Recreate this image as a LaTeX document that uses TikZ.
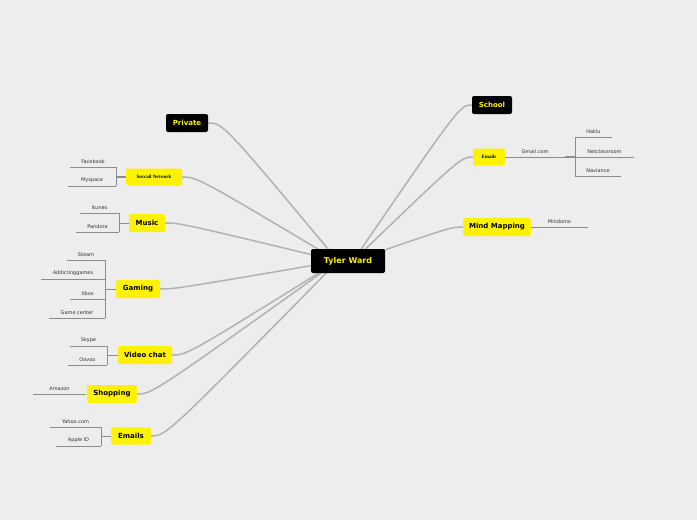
\documentclass[tikz,border=0pt]{standalone}
\usepackage{fontspec}
\setmainfont{DejaVu Sans}
\newfontfamily\serifk{Liberation Serif}
\usetikzlibrary{calc}
\begin{document}
\begin{tikzpicture}[x=1pt,y=-1pt,
 topic/.style={fill=yellow,rounded corners=2pt,font=\bfseries\fontsize{7}{8}\selectfont,inner sep=0pt,minimum height=18pt,text=black},
 dark/.style={fill=black,rounded corners=2pt,font=\bfseries\fontsize{7}{8}\selectfont,inner sep=0pt,minimum height=18pt,text=yellow},
 sertopic/.style={topic,minimum height=17pt,font=\serifk\bfseries\fontsize{5}{6}\selectfont},
 leafl/.style={draw=black!45,line width=0.6pt},
 lbl/.style={font=\fontsize{5}{6}\selectfont,text=black!80,inner sep=0pt}]
\fill[black!7] (0,0) rectangle (697,520);
\useasboundingbox (0,0) rectangle (697,520);
\coordinate (c) at (348,261);
\coordinate (priv) at (187,123);
\coordinate (sch) at (492,105);
\coordinate (soc) at (154,177);
\coordinate (mus) at (147,223);
\coordinate (gam) at (138,289);
\coordinate (vid) at (145,355);
\coordinate (shop) at (112,394);
\coordinate (eml) at (131,436);
\coordinate (emr) at (489,157);
\coordinate (mm) at (497,227);
% main connectors
\begin{scope}[line width=1.5pt,black!30]
\foreach \n/\w in {priv/21,soc/28,mus/18,gam/22,vid/27,shop/25,eml/20}{
  \draw ($(c)+(-10,0)$) .. controls ($(\n)+(\w+15,0)$) .. ($(\n)+(\w,0)$);}
\foreach \n/\w in {sch/20,emr/16,mm/34}{
  \draw ($(c)+(5,0)$) .. controls ($(\n)+(-\w-12,0)$) .. ($(\n)+(-\w,0)$);}
\end{scope}
\node[dark,minimum width=74pt,minimum height=24pt,font=\bfseries\fontsize{8}{9}\selectfont] (tw) at (c) {Tyler Ward};
\node[dark,minimum width=42pt] (nPriv) at (priv) {Private};
\node[dark,minimum width=40pt] (nSch) at (sch) {School};
\node[sertopic,minimum width=56pt] (nSoc) at (soc) {Soccail Network};
\node[topic,minimum width=36pt] (nMus) at (mus) {Music};
\node[topic,minimum width=44pt] (nGam) at (gam) {Gaming};
\node[topic,minimum width=54pt] (nVid) at (vid) {Video chat};
\node[topic,minimum width=50pt] (nShop) at (shop) {Shopping};
\node[topic,minimum width=40pt,minimum height=17pt] (nEml) at (eml) {Emails};
\node[sertopic,minimum width=32pt] (nEmr) at (emr) {Emails};
\node[topic,minimum width=68pt] (nMm) at (mm) {Mind Mapping};
\newcommand\lf[4]{\draw[leafl] (#1,#2) -- (#3,#2); \node[lbl,anchor=south] at ({(#1+#3)/2},{#2-3}) {#4};}
% Social
\draw[leafl,line width=1.2pt] (nSoc.west) -- (116,177);
\draw[leafl] (116,167) -- (116,186);
\lf{116}{167}{70}{Facebook}\lf{116}{186}{68}{Myspace}
% Music
\draw[leafl] (nMus.west) -- (119,223); \draw[leafl] (119,213) -- (119,232);
\lf{119}{213}{80}{Itunes}\lf{119}{232}{76}{Pandora}
% Gaming
\draw[leafl] (nGam.west) -- (105,289); \draw[leafl] (105,260) -- (105,318);
\lf{105}{260}{67}{Steam}\lf{105}{279}{41}{Addictinggames}\lf{105}{299}{70}{Xbox}\lf{105}{318}{49}{Game center}
% Video
\draw[leafl] (nVid.west) -- (107,355); \draw[leafl] (107,346) -- (107,365);
\lf{107}{346}{70}{Skype}\lf{107}{365}{68}{Oovoo}
% Shopping
\lf{86}{394}{33}{Amazon}
% Emails left
\draw[leafl] (nEml.west) -- (101,436); \draw[leafl] (101,427) -- (101,446);
\lf{101}{427}{50}{Yahoo.com}\lf{101}{446}{56}{Apple ID}
% Emails right
\lf{505}{157}{565}{Gmail.com}
\draw[leafl,line width=1.2pt] (565,157) -- (575,157);
\draw[leafl] (575,137) -- (575,176);
\lf{575}{137}{612}{Haklu}\lf{575}{157}{634}{Netclassroom}\lf{575}{176}{621}{Naviance}
% Mind mapping
\lf{531}{227}{588}{Mindomo}
\end{tikzpicture}
\end{document}
